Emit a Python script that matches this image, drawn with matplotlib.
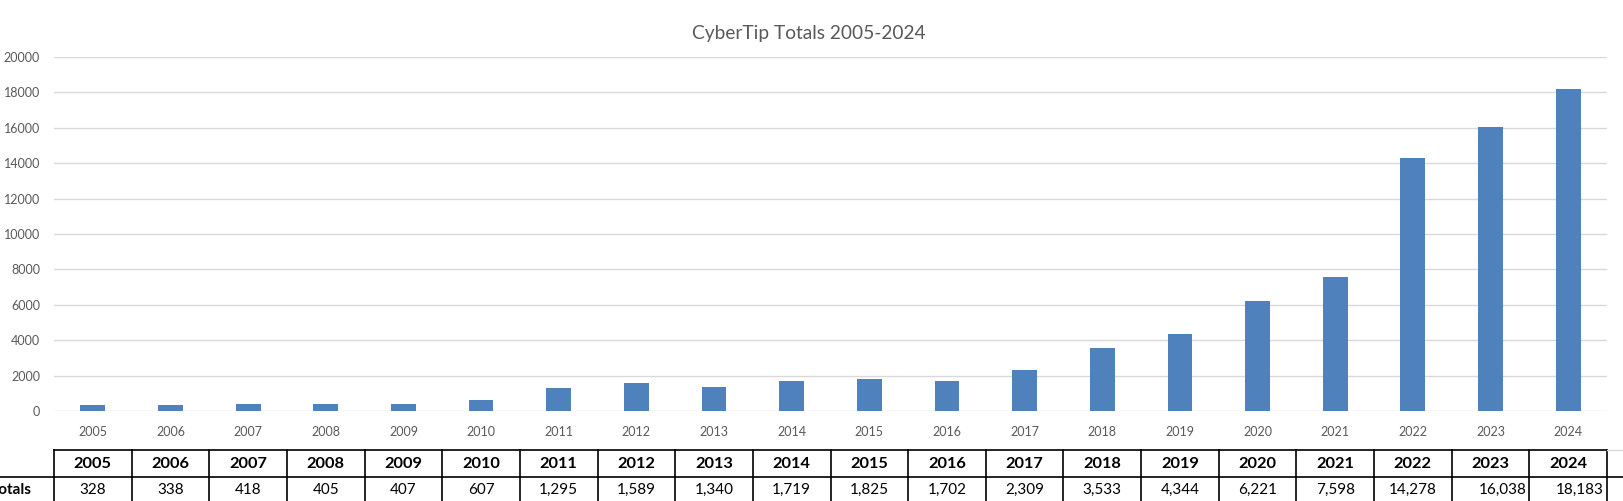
import matplotlib.pyplot as plt
from matplotlib.lines import Line2D
import matplotlib.transforms as mtransforms

plt.rcParams['font.family'] = ['Lato', 'DejaVu Sans']

years = [2005, 2006, 2007, 2008, 2009, 2010, 2011, 2012, 2013, 2014,
         2015, 2016, 2017, 2018, 2019, 2020, 2021, 2022, 2023, 2024]
totals = [328, 338, 418, 405, 407, 607, 1295, 1589, 1340, 1719,
          1825, 1702, 2309, 3533, 4344, 6221, 7598, 14278, 16038, 18183]
yticks = [0, 2000, 4000, 6000, 8000, 10000, 12000, 14000, 16000, 18000, 20000]

W, H = 1624, 501
fig = plt.figure(figsize=(W / 100, H / 100), dpi=100)
ax = fig.add_axes([54 / W, 1 - 411 / H, (1607 - 54) / W, (411 - 57) / H])

x = list(range(len(years)))
ax.bar(x, totals, width=0.32, color='#4F81BD', zorder=3)
ax.set_xlim(-0.5, len(years) - 0.5)
ax.set_ylim(0, 20000)
ax.set_yticks(yticks)
ax.set_xticks(x)
ax.set_xticklabels([str(y) for y in years])
ax.grid(axis='y', color='#D9D9D9', linewidth=1, zorder=0)
for s in ax.spines.values():
    s.set_visible(False)
ax.tick_params(length=0, labelsize=9, colors='#595959')
ax.tick_params(axis='x', pad=11)
ax.tick_params(axis='y', pad=10)

fig.text(809 / W, 1 - 33 / H, 'CyberTip Totals 2005-2024', ha='center', va='center',
         fontsize=13.8, color='#595959')

# data table under the chart
tr = mtransforms.blended_transform_factory(ax.transData, fig.transFigure)
y_top, y_mid, y_bot = 1 - 450 / H, 1 - 477 / H, 0.0
n = len(years)
for i in range(n + 1):
    fig.add_artist(Line2D([i - 0.5, i - 0.5], [y_top, y_bot], transform=tr,
                          color='black', linewidth=1.2))
fig.add_artist(Line2D([-0.5, n - 0.5], [y_top, y_top], transform=tr, color='black', linewidth=1.2))
fig.add_artist(Line2D([0, 1], [y_mid, y_mid], transform=fig.transFigure, color='black', linewidth=1.2))
fig.add_artist(Line2D([1607 / W, 1], [y_top, y_top], transform=fig.transFigure, color='#D9D9D9', linewidth=1))

right_aligned = {2023, 2024}
for i, (yr, v) in enumerate(zip(years, totals)):
    fig.text(i, 1 - 463.5 / H, str(yr), transform=tr, ha='center', va='center',
             fontsize=11.8, fontweight='bold', color='black')
    if yr in right_aligned:
        fig.text(i + 0.46, 1 - 490 / H, f'{v:,}', transform=tr, ha='right', va='center',
                 fontsize=11, color='black')
    else:
        fig.text(i, 1 - 490 / H, f'{v:,}', transform=tr, ha='center', va='center',
                 fontsize=11, color='black')
# row header is cut off at the left edge in the original
fig.text(-10 / W, 1 - 490 / H, 'Totals', ha='left', va='center', fontsize=11,
         fontweight='bold', color='black')

fig.savefig('out.png', dpi=100)
